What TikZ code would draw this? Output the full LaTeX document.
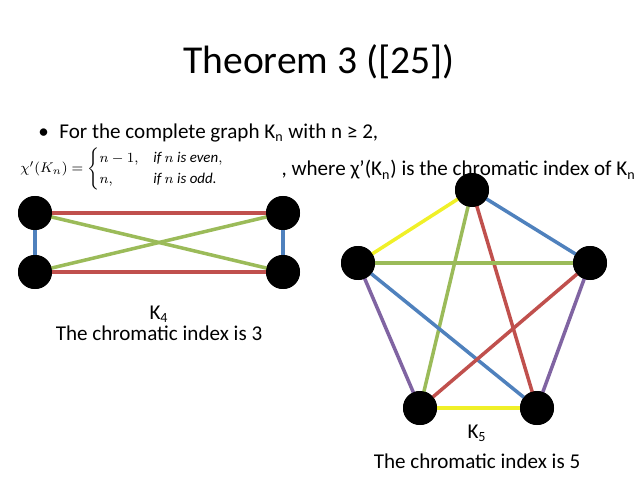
\documentclass[tikz,border=0pt]{standalone}
\usepackage{amsmath}
\usepackage{fontspec}
\setmainfont{Carlito}
\usepackage{tikz}
\definecolor{ered}{RGB}{192, 80, 77}
\definecolor{egreen}{RGB}{155, 187, 89}
\definecolor{eblue}{RGB}{79, 129, 189}
\definecolor{epurple}{RGB}{128, 100, 162}
\definecolor{eyellow}{RGB}{240, 240, 40}
\tikzset{
  vtx/.style={circle, fill=black, minimum size=0.68cm, inner sep=0pt},
  edge/.style={line width=2pt},
  txt/.style={font=\fontsize{12}{14}\selectfont, inner sep=0pt}
}

\begin{document}
\begin{tikzpicture}[x=0.02cm, y=-0.02cm]
  \useasboundingbox (0, 0) rectangle (638, 479);

  \node[font=\fontsize{22.5}{26}\selectfont] (title) at (319, 62) {Theorem 3 ([25])};
  \node[txt, anchor=west] (bullet) at (38, 133) {\textbullet\enspace For the complete graph K\textsubscript{n} with n ≥ 2,};
  \node[anchor=west, font=\fontsize{8.5}{10}\selectfont, inner sep=0pt] (formula) at (20, 169)
    {$\chi'(K_n)=\begin{cases} n-1, & \textit{if } n \textit{ is even},\\ n, & \textit{if } n \textit{ is odd.}\end{cases}$};
  \node[txt, anchor=east] (where) at (636, 170) {, where χ’(K\textsubscript{n}) is the chromatic index of K\textsubscript{n}};

  % K4
  \node[vtx] (a1) at (35, 213) {};
  \node[vtx] (a2) at (283, 213) {};
  \node[vtx] (a3) at (35, 272) {};
  \node[vtx] (a4) at (283, 272) {};
  \draw[edge, ered] (a1.center) -- (a2.center);
  \draw[edge, ered] (a3.center) -- (a4.center);
  \draw[edge, eblue] (a1.center) -- (a3.center);
  \draw[edge, eblue] (a2.center) -- (a4.center);
  \draw[edge, egreen] (a1.center) -- (a4.center);
  \draw[edge, egreen] (a2.center) -- (a3.center);
  \node[txt] (k4) at (159, 314) {K\textsubscript{4}};
  \node[txt] (k4txt) at (159, 333) {The chromatic index is 3};

  % K5
  \node[vtx] (b1) at (472, 190) {};
  \node[vtx] (b2) at (358, 263) {};
  \node[vtx] (b3) at (590, 263) {};
  \node[vtx] (b4) at (420, 408) {};
  \node[vtx] (b5) at (537, 408) {};
  \draw[edge, eyellow] (b1.center) -- (b2.center);
  \draw[edge, eblue] (b1.center) -- (b3.center);
  \draw[edge, egreen] (b1.center) -- (b4.center);
  \draw[edge, ered] (b1.center) -- (b5.center);
  \draw[edge, egreen] (b2.center) -- (b3.center);
  \draw[edge, epurple] (b2.center) -- (b4.center);
  \draw[edge, eblue] (b2.center) -- (b5.center);
  \draw[edge, epurple] (b3.center) -- (b5.center);
  \draw[edge, ered] (b3.center) -- (b4.center);
  \draw[edge, eyellow] (b4.center) -- (b5.center);
  \foreach \v in {a1, a2, a3, a4, b1, b2, b3, b4, b5}
    \fill (\v) circle (17);
  \node[txt] (k5) at (477, 433) {K\textsubscript{5}};
  \node[txt] (k5txt) at (477, 461) {The chromatic index is 5};
\end{tikzpicture}
\end{document}
